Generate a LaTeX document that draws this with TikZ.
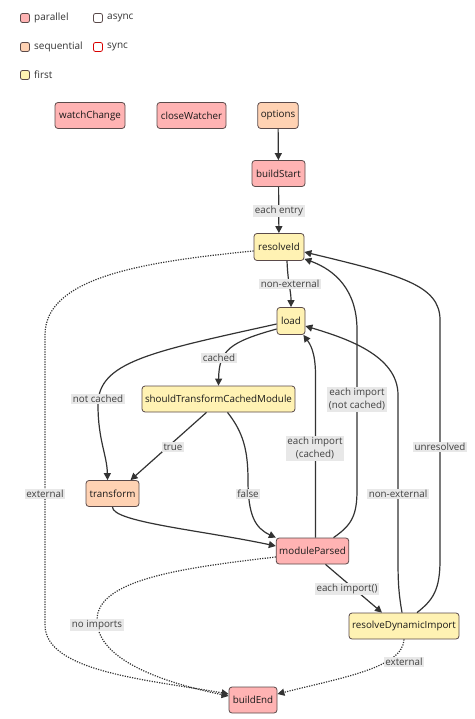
\documentclass[tikz,border=0pt]{standalone}
\usepackage{fontspec}
\setmainfont{Open Sans}
\usetikzlibrary{arrows.meta}
\definecolor{par}{HTML}{FFB3B3}
\definecolor{seq}{HTML}{FFD2B3}
\definecolor{fst}{HTML}{FFF2B3}
\definecolor{lnc}{HTML}{333333}
\definecolor{lblbg}{HTML}{E8E8E8}
\definecolor{bord}{HTML}{5A4A4A}
\begin{document}
\begin{tikzpicture}[x=1pt,y=-1pt,
  hook/.style={draw=bord, line width=0.8pt, rounded corners=3pt, minimum height=26pt,
    inner xsep=3pt, font=\fontsize{9.8}{12}\selectfont, text=black!90},
  hpar/.style={hook, fill=par},
  hseq/.style={hook, fill=seq},
  hfst/.style={hook, fill=fst},
  swatch/.style={draw=bord, line width=0.8pt, rounded corners=2pt, minimum size=9pt, inner sep=0pt},
  legtext/.style={anchor=west, inner sep=0pt, font=\fontsize{10}{12}\selectfont, text=black!80},
  arr/.style={draw=lnc, line width=1.2pt, -{Triangle[length=7pt,width=7pt]}},
  dotarr/.style={arr, dash pattern=on 1.2pt off 1.3pt},
  lbl/.style={fill=lblbg, inner sep=1.5pt, font=\fontsize{9.8}{13}\selectfont, text=black!75, align=center}
]
\useasboundingbox (0,0) rectangle (474,719);

% legend
\node[swatch, fill=par] (lgpar) at (25,18) {};
\node[legtext] (lgpart) at (34,18) {parallel};
\node[swatch, fill=white] (lgasync) at (98,18) {};
\node[legtext] (lgasynct) at (107,18) {async};
\node[swatch, fill=seq] (lgseq) at (25,47) {};
\node[legtext] (lgseqt) at (34,47) {sequential};
\node[swatch, fill=white, draw=red!85!black] (lgsync) at (98,47) {};
\node[legtext] (lgsynct) at (107,47) {sync};
\node[swatch, fill=fst] (lgfst) at (25,75) {};
\node[legtext] (lgfstt) at (34,75) {first};

% hooks
\node[hpar, minimum width=70pt] (watchChange) at (90,115.5) {watchChange};
\node[hpar, minimum width=69pt] (closeWatcher) at (191.5,115.5) {closeWatcher};
\node[hseq, minimum width=40pt] (options) at (278,115.5) {options};
\node[hpar, minimum width=53pt] (buildStart) at (278.5,173.5) {buildStart};
\node[hfst, minimum width=50pt, minimum height=27pt] (resolveId) at (279,247) {resolveId};
\node[hfst, minimum width=28pt, minimum height=27pt] (load) at (291,321) {load};
\node[hfst, minimum width=149pt] (stcm) at (218.5,399) {shouldTransformCachedModule};
\node[hseq, minimum width=53pt] (transform) at (112.5,493.5) {transform};
\node[hpar, minimum width=71pt] (mp) at (312.5,551) {moduleParsed};
\node[hfst, minimum width=110pt] (rdi) at (404,626) {resolveDynamicImport};
\node[hpar, minimum width=48pt] (buildEnd) at (253,700) {buildEnd};

% connectors
\draw[arr] (options) -- (buildStart);
\draw[arr] (buildStart) -- (resolveId);
\draw[arr] ([xshift=8pt]resolveId.south) .. controls (288,285) and (291,290) .. (load.north);
\draw[arr] ([yshift=-8pt]load.west) .. controls (230,342) and (219,350) .. (stcm.north);
\draw[arr] ([yshift=-3pt]load.west) .. controls (150,352) and (98,362) .. (98,405)
   .. controls (98,440) and (107,455) .. ([xshift=-5pt]transform.north);
\draw[arr] ([xshift=-12pt]stcm.south) -- ([xshift=18pt]transform.north);
\draw[arr] ([xshift=9pt]stcm.south) .. controls (243,432) and (248,450) .. (248,480)
   .. controls (248,515) and (255,528) .. (mp.north west);
\draw[arr] (transform.south) .. controls (112,522) and (200,530) .. ([yshift=5pt]mp.west);
\draw[arr] ([xshift=3pt]mp.north) -- (315.5,375) .. controls (315.5,352) and (310,344) .. ([xshift=-2pt]load.south east);
\draw[arr] ([xshift=21pt]mp.north) .. controls (352,525) and (357,515) .. (357,490) -- (357,330)
   .. controls (357,290) and (335,270) .. ([yshift=2pt]resolveId.south east);
\draw[arr] ([xshift=-2pt]rdi.north) .. controls (399,595) and (398,585) .. (398,560) -- (398,395)
   .. controls (398,355) and (345,338) .. ([yshift=-5pt]load.east);
\draw[arr] ([xshift=13pt]rdi.north) .. controls (433,600) and (440,590) .. (440,560) -- (440,320)
   .. controls (440,285) and (400,275) .. ([yshift=-5pt]resolveId.east);
\draw[arr] ([xshift=13pt]mp.south) -- ([xshift=-22pt]rdi.north);
\draw[dotarr] ([yshift=-4pt]resolveId.west) .. controls (140,262) and (45,278) .. (45,335) -- (45,625)
   .. controls (45,672) and (150,680) .. ([yshift=6pt]buildEnd.west);
\draw[dotarr] ([yshift=-6pt]mp.west) .. controls (180,568) and (97,580) .. (97,620)
   .. controls (97,662) and (170,684) .. ([yshift=4pt]buildEnd.west);
\draw[dotarr] (rdi.south) .. controls (403,668) and (340,678) .. ([yshift=6pt]buildEnd.east);

% edge labels
\node[lbl] (l1) at (279,211) {each entry};
\node[lbl] (l2) at (290,284) {non-external};
\node[lbl] (l3) at (219,358) {cached};
\node[lbl] (l4) at (98,399) {not cached};
\node[lbl] (l5) at (173,447) {true};
\node[lbl] (l6) at (248,494) {false};
\node[lbl] (l7) at (45,494) {external};
\node[lbl] (l8) at (315,448) {each import\\(cached)};
\node[lbl] (l9) at (357,399) {each import\\(not cached)};
\node[lbl] (l10) at (398,494) {non-external};
\node[lbl] (l11) at (440,447) {unresolved};
\node[lbl] (l12) at (347,589) {each import()};
\node[lbl] (l13) at (404,662) {external};
\node[lbl] (l14) at (97,625) {no imports};
\end{tikzpicture}
\end{document}
